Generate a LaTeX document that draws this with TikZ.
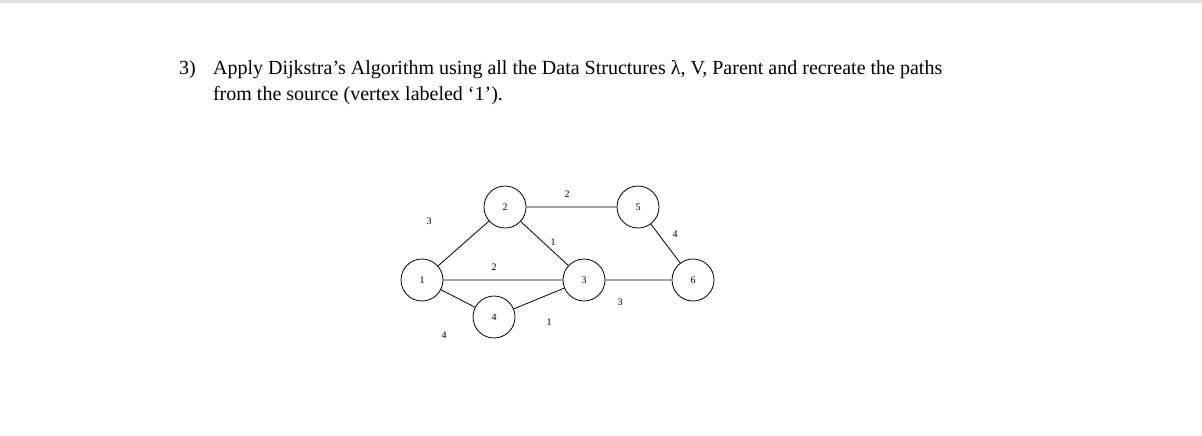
\documentclass[tikz,border=0pt]{standalone}
\usepackage{fontspec}
\setmainfont{Liberation Serif}
\begin{document}
\begin{tikzpicture}[x=0.5pt,y=-0.5pt,
  v/.style={circle,draw,minimum size=21pt,inner sep=0pt,font=\fontsize{5}{6}\selectfont},
  w/.style={font=\fontsize{5}{6}\selectfont},
  e/.style={line width=0.4pt}]
\useasboundingbox (0,0) rectangle (1202,435);
\fill[gray!25] (0,0) rectangle (1202,3);
\node[anchor=base west,font=\fontsize{10}{13}\selectfont] (q) at (172,74) {3)};
\node[anchor=base west,font=\fontsize{10}{13}\selectfont] (t1) at (206,74) {Apply Dijkstra’s Algorithm using all the Data Structures λ, V, Parent and recreate the paths};
\node[anchor=base west,font=\fontsize{10}{13}\selectfont] (t2) at (206,100) {from the source (vertex labeled ‘1’).};
\node[v] (n1) at (422,280) {1};
\node[v] (n2) at (505,207) {2};
\node[v] (n5) at (638,207) {5};
\node[v] (n3) at (584,280) {3};
\node[v] (n6) at (693,280) {6};
\node[v] (n4) at (494,317) {4};
\draw[e] (n1)--(n2) (n1)--(n3) (n1)--(n4) (n2)--(n5) (n2)--(n3) (n4)--(n3) (n3)--(n6) (n5)--(n6);
\node[w] (l1) at (429,221) {3};
\node[w] (l2) at (567,194) {2};
\node[w] (l3) at (553,242) {1};
\node[w] (l4) at (494,267) {2};
\node[w] (l5) at (675,234) {4};
\node[w] (l6) at (620,302) {3};
\node[w] (l7) at (549,322) {1};
\node[w] (l8) at (444,335) {4};
\end{tikzpicture}
\end{document}
